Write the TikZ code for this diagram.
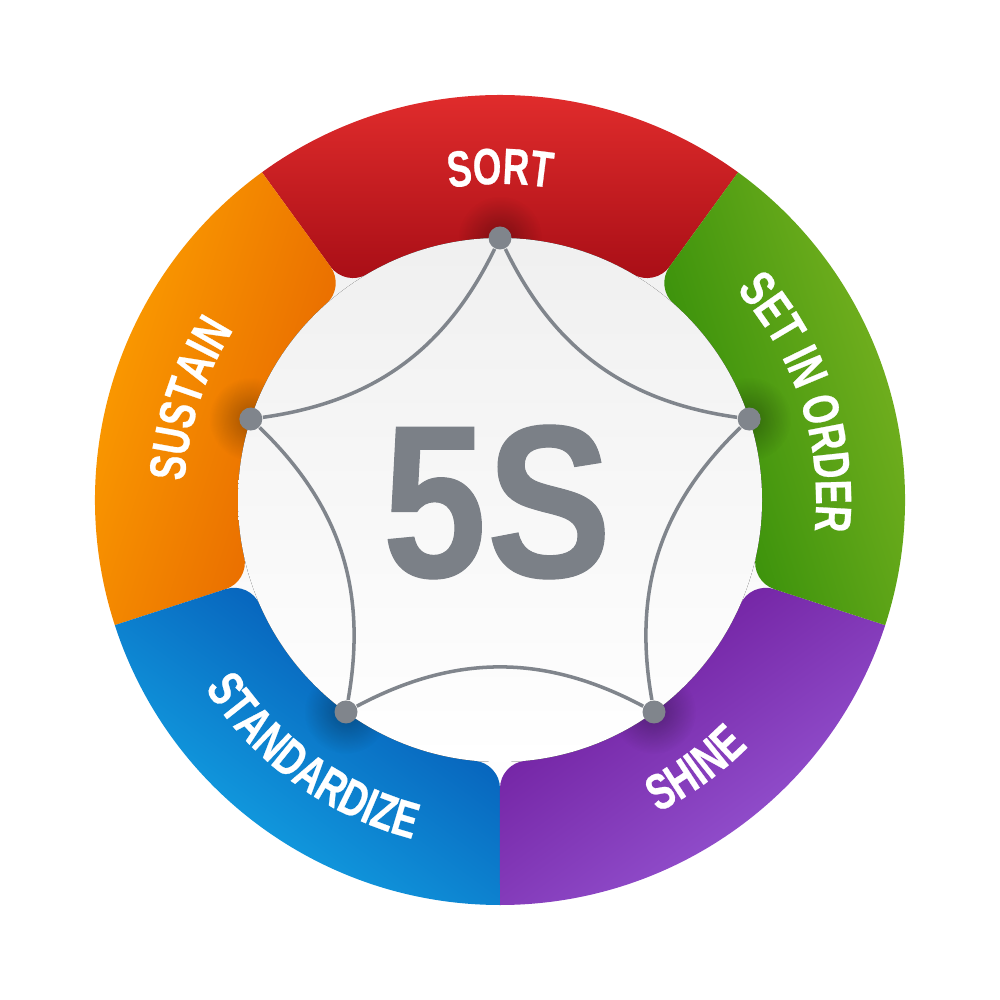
\documentclass[tikz,border=0pt]{standalone}
\usepackage{fontspec}
\setmainfont{Liberation Sans}
\newfontfamily\labelfont[FakeStretch=0.72, FakeBold=0.5]{Liberation Sans}
\newfontfamily\bigfont[FakeStretch=0.86, FakeBold=0.5]{Liberation Sans}
\usetikzlibrary{decorations.text, fadings}

\definecolor{sortout}{HTML}{E8302F}
\definecolor{sortin}{HTML}{A80E16}
\definecolor{setout}{HTML}{82B824}
\definecolor{setin}{HTML}{2C8A06}
\definecolor{shineout}{HTML}{9A5BD8}
\definecolor{shinein}{HTML}{6A1697}
\definecolor{stdout}{HTML}{14ABE9}
\definecolor{stdin}{HTML}{0450B0}
\definecolor{sustout}{HTML}{FFA600}
\definecolor{sustin}{HTML}{E56200}
\definecolor{fivegray}{HTML}{7B8087}
\definecolor{dotgray}{HTML}{80858C}

\tikzfading[name=dotshade, inner color=transparent!20, outer color=transparent!100]

% ring piece from angle #1 to #2, rounded inner corners
\newcommand{\ringpart}[3]{%
  \path[#3] (#1:4.05) arc[start angle=#1, end angle=#2, radius=4.05]
    -- (#2:2.886) arc[start angle=#2+90, end angle=#2+174.46, radius=0.28]
    arc[start angle=#2-5.54, end angle=#1+5.54, radius=2.62]
    arc[start angle=#1+185.54, end angle=#1+270, radius=0.28]
    -- cycle;}

% curved white label along an arc
\newcommand{\ringlabel}[4]{%
  \path[decorate, decoration={text along path, text align=center,
      text={|\labelfont\bfseries\fontsize{14.5}{14.5}\selectfont\color{white}|#4}}]
    (#1:#3) arc[start angle=#1, end angle=#2, radius=#3];}

\tikzset{
  dot/.style={circle, fill=dotgray, inner sep=0pt, minimum size=0.23cm},
  link/.style={draw=dotgray, line width=1pt},
  shade/.style={top color=#1out, bottom color=#1in}
}

\begin{document}
\begin{tikzpicture}
  \useasboundingbox (-5,-5) rectangle (5,5);

  \fill[top color=black!6, bottom color=white] (0,0) circle (2.9);

  \ringpart{54}{126}{shade=sort}
  \ringpart{126}{198}{shade=sust, shading angle=72}
  \ringpart{198}{270}{shade=std, shading angle=144}
  \ringpart{270}{342}{shade=shine, shading angle=216}
  \ringpart{-18}{54}{shade=set, shading angle=-72}

  \foreach \a in {90,18,-54,-126,162}
    \fill[black, path fading=dotshade, opacity=0.4] (\a:2.62) circle (0.42);

  \fill[top color=black!6, bottom color=white] (0,0) circle (2.62);

  \node[dot] (sortdot) at (90:2.62) {};
  \node[dot] (setdot) at (18:2.62) {};
  \node[dot] (shinedot) at (-54:2.62) {};
  \node[dot] (stddot) at (-126:2.62) {};
  \node[dot] (sustdot) at (162:2.62) {};

  \draw[link] (sortdot) to[bend right=28] (setdot);
  \draw[link] (setdot) to[bend right=28] (shinedot);
  \draw[link] (shinedot) to[bend right=28] (stddot);
  \draw[link] (stddot) to[bend right=28] (sustdot);
  \draw[link] (sustdot) to[bend right=28] (sortdot);

  \ringlabel{126}{54}{3.16}{SORT}
  \ringlabel{54}{-18}{3.16}{SET IN ORDER}
  \ringlabel{-90}{-18}{3.50}{SHINE}
  \ringlabel{-162}{-90}{3.50}{STANDARDIZE}
  \ringlabel{198}{126}{3.16}{SUSTAIN}

  \node[text=fivegray, font=\bigfont\bfseries\fontsize{62}{62}\selectfont]
    (title) at (-0.03,-0.02) {5S};
\end{tikzpicture}
\end{document}
